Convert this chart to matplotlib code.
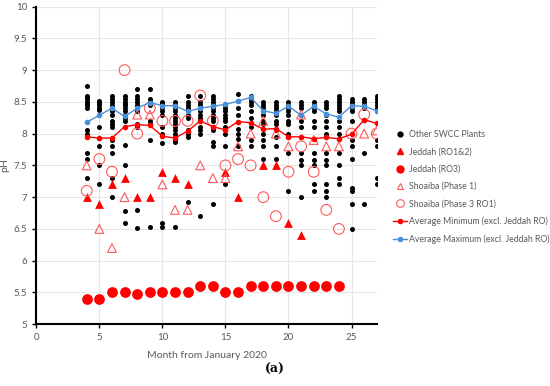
import numpy as np
import matplotlib
matplotlib.use("Agg")
import matplotlib.pyplot as plt
from matplotlib.lines import Line2D

plt.rcParams['font.family'] = ['Lato', 'DejaVu Sans']

# Other SWCC plants: pH readings per month
other_months = list(range(4, 28))
other_values = [
    [8.75, 8.6, 8.58, 8.55, 8.5, 8.47, 8.45, 8.4, 8.05, 8.0, 7.7, 7.6, 7.3],
    [8.52, 8.5, 8.47, 8.45, 8.4, 8.37, 8.1, 7.8, 7.5, 7.2],
    [8.6, 8.55, 8.5, 8.45, 8.4, 8.35, 8.3, 8.2, 8.15, 8.1, 7.9, 7.8, 7.7, 7.3, 7.0],
    [8.6, 8.55, 8.5, 8.47, 8.45, 8.4, 8.35, 8.3, 8.25, 8.2, 7.82, 7.5, 6.78, 6.6],
    [8.7, 8.6, 8.55, 8.5, 8.45, 8.4, 8.35, 8.15, 8.1, 6.8, 6.52],
    [8.7, 8.55, 8.5, 8.45, 8.2, 8.15, 7.9, 6.53],
    [8.5, 8.47, 8.45, 8.4, 8.35, 8.3, 8.1, 8.0, 7.85, 6.6, 6.53],
    [8.5, 8.45, 8.4, 8.35, 8.3, 8.25, 8.2, 8.15, 8.1, 8.05, 8.0, 7.95, 7.9, 7.87, 6.53],
    [8.6, 8.5, 8.45, 8.4, 8.35, 8.3, 8.25, 8.05, 8.0, 7.95, 6.92],
    [8.6, 8.5, 8.45, 8.4, 8.35, 8.3, 8.25, 8.2, 8.1, 8.05, 8.0, 6.7],
    [8.6, 8.55, 8.5, 8.45, 8.4, 8.35, 8.3, 8.25, 8.2, 8.1, 8.05, 7.87, 7.8, 6.9],
    [8.45, 8.4, 8.35, 8.3, 8.25, 8.2, 8.1, 8.0, 7.8, 7.2],
    [8.62, 8.51, 8.4, 8.29, 8.19, 8.08, 8.0, 7.91, 7.81],
    [8.6, 8.55, 8.5, 8.45, 8.35, 8.25, 8.1, 7.9, 7.8],
    [8.5, 8.45, 8.4, 8.35, 8.3, 8.2, 8.15, 8.0, 7.9, 7.8, 7.6],
    [8.5, 8.45, 8.4, 8.35, 8.3, 8.2, 8.15, 8.05, 7.95, 7.8, 7.6],
    [8.5, 8.45, 8.4, 8.35, 8.3, 8.2, 8.15, 8.0, 7.7, 7.1],
    [8.5, 8.45, 8.4, 8.3, 8.2, 8.1, 7.7, 7.58, 7.5, 7.0],
    [8.5, 8.45, 8.4, 8.35, 8.2, 8.1, 7.7, 7.58, 7.5, 7.2, 7.1],
    [8.5, 8.45, 8.4, 8.3, 8.2, 8.1, 8.0, 7.7, 7.58, 7.5, 7.2, 7.1, 7.0],
    [8.6, 8.55, 8.5, 8.45, 8.4, 8.35, 8.2, 8.1, 8.0, 7.7, 7.5, 7.3, 7.2],
    [8.55, 8.5, 8.45, 8.4, 8.35, 8.2, 7.9, 7.8, 7.6, 7.15, 7.1, 6.9, 6.5],
    [8.55, 8.5, 8.45, 8.4, 7.7, 6.9],
    [8.6, 8.55, 8.5, 8.45, 8.4, 8.35, 7.9, 7.8, 7.3, 7.2],
]

# Jeddah RO1&2
jed12_months = [4, 5, 6, 7, 8, 9, 10, 11, 12, 15, 16, 18, 19, 20, 21]
jed12_values = [7.0, 6.9, 7.2, 7.3, 7.0, 7.0, 7.4, 7.3, 7.2, 7.4, 7.0, 7.5, 7.5, 6.6, 6.4]

# Jeddah RO3
jed3_months = list(range(4, 25))
jed3_values = [5.4, 5.4, 5.5, 5.5, 5.47, 5.5, 5.5, 5.5, 5.5, 5.6, 5.6,
               5.5, 5.5, 5.6, 5.6, 5.6, 5.6, 5.6, 5.6, 5.6, 5.6]

# Shoaiba Phase 1
sh1_months = [4, 5, 6, 7, 8, 9, 10, 11, 12, 13, 14, 15, 16, 17, 18, 19,
              20, 21, 22, 23, 24, 26, 27]
sh1_values = [7.5, 6.5, 6.2, 7.0, 8.3, 8.3, 7.2, 6.8, 6.8, 7.5, 7.3, 7.3, 7.8,
              8.0, 8.2, 8.0, 7.8, 8.3, 7.9, 7.8, 7.8, 8.0, 8.05]

# Shoaiba Phase 3 RO1
sh3_months = list(range(4, 28))
sh3_values = [7.1, 7.6, 7.4, 9.0, 8.0, 8.4, 8.2, 8.2, 8.2, 8.6, 8.2, 7.5,
              7.6, 7.5, 7.0, 6.7, 7.4, 7.8, 7.4, 6.8, 6.5, 8.0, 8.3, 8.0]

# Averages (excl. Jeddah RO)
avg_months = list(range(4, 28))
avg_min = [7.95, 7.93, 7.93, 8.11, 8.14, 8.13, 7.96, 7.93, 8.04, 8.2, 8.11, 8.06,
           8.19, 8.17, 8.07, 8.08, 7.95, 7.95, 7.92, 7.94, 7.92, 7.99, 8.22, 8.16]
avg_max = [8.18, 8.29, 8.4, 8.27, 8.4, 8.49, 8.44, 8.44, 8.35, 8.4, 8.43, 8.46,
           8.51, 8.57, 8.36, 8.32, 8.43, 8.29, 8.43, 8.31, 8.26, 8.44, 8.43, 8.36]

red = '#ff0000'
pink = '#ff5a5a'
blue = '#4a90d9'
grey = '#595959'

fig = plt.figure(figsize=(5.5, 3.86), dpi=100)
ax = fig.add_axes([0.066, 0.16, 0.619, 0.823])

ox = [m for m, vals in zip(other_months, other_values) for _ in vals]
oy = [v for vals in other_values for v in vals]
ax.scatter(ox, oy, s=13, color='black', linewidths=0, zorder=3)
ax.scatter(jed12_months, jed12_values, s=40, marker='^', color=red, linewidths=0, zorder=4)
ax.scatter(jed3_months, jed3_values, s=60, marker='o', color=red, linewidths=0, zorder=4)
ax.scatter(sh1_months, sh1_values, s=40, marker='^', facecolors='none', edgecolors=pink,
           linewidths=0.8, zorder=5)
ax.scatter(sh3_months, sh3_values, s=60, marker='o', facecolors='none', edgecolors=pink,
           linewidths=0.8, zorder=5)
ax.plot(avg_months, avg_min, color=red, lw=1.0, marker='o', ms=3, zorder=6)
ax.plot(avg_months, avg_max, color=blue, lw=1.0, marker='o', ms=3, zorder=6)

ax.set_xlim(0, 27)
ax.set_ylim(5, 10)
ax.set_xticks(np.arange(0, 26, 5))
ax.set_yticks(np.arange(5, 10.01, 0.5))
ax.set_yticklabels([f'{t:g}' for t in np.arange(5, 10.01, 0.5)])
ax.grid(True, color='#e6e6e6', lw=0.8)
ax.set_axisbelow(True)
for s in ['top', 'right']:
    ax.spines[s].set_visible(False)
for s in ['left', 'bottom']:
    ax.spines[s].set_linewidth(1.5)
ax.tick_params(axis='both', labelsize=7, colors=grey, length=3, width=1)
ax.tick_params(axis='both', color='black')
ax.set_xlabel('Month from January 2020', fontsize=7.5, color=grey, labelpad=6)
ax.set_ylabel('pH', fontsize=7.5, color=grey)
ax.yaxis.set_label_coords(-0.078, 0.5)

handles = [
    Line2D([], [], ls='none', marker='o', ms=3.5, color='black'),
    Line2D([], [], ls='none', marker='^', ms=5, color=red),
    Line2D([], [], ls='none', marker='o', ms=5, color=red),
    Line2D([], [], ls='none', marker='^', ms=5, mfc='none', mec=pink, mew=0.8),
    Line2D([], [], ls='none', marker='o', ms=5.5, mfc='none', mec=pink, mew=0.8),
    Line2D([], [], color=red, lw=1.0, marker='o', ms=3),
    Line2D([], [], color=blue, lw=1.0, marker='o', ms=3),
]
labels = ['Other SWCC Plants', 'Jeddah (RO1&2)', 'Jeddah (RO3)', 'Shoaiba (Phase 1)',
          'Shoaiba (Phase 3 RO1)', 'Average Minimum (excl. Jeddah RO)',
          'Average Maximum (excl. Jeddah RO)']
fig.legend(handles, labels, loc='upper left', bbox_to_anchor=(0.708, 0.672),
           frameon=False, fontsize=6.3, labelcolor=grey, handlelength=1.6,
           handletextpad=0.25, labelspacing=0.95, borderaxespad=0)

fig.text(0.5, 0.025, '(a)', ha='center', va='bottom', fontsize=9, fontweight='bold',
         family='DejaVu Serif')

fig.savefig('out.png', dpi=100)
